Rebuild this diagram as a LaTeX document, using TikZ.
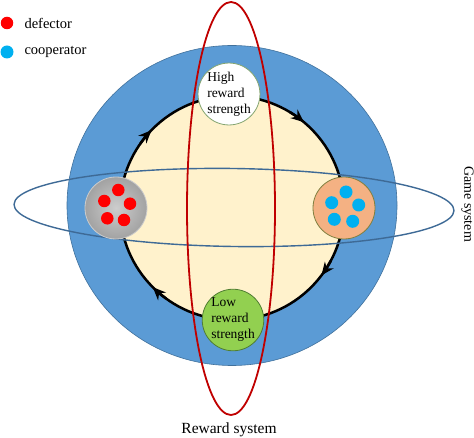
\documentclass[tikz,border=0pt]{standalone}
\usepackage{fontspec}
\setmainfont{Liberation Serif}
\usetikzlibrary{arrows.meta,calc}
\definecolor{outerblue}{HTML}{5B9BD5}
\definecolor{bluerim}{HTML}{41719C}
\definecolor{cream}{HTML}{FFF2CC}
\definecolor{gamecol}{HTML}{3E6A96}
\definecolor{rewardcol}{HTML}{C00000}
\definecolor{lowgreen}{HTML}{92D050}
\definecolor{greenrim}{HTML}{507E32}
\definecolor{coopfill}{HTML}{F4B183}
\definecolor{cooprim}{HTML}{7F7F3F}
\definecolor{defred}{HTML}{FF0000}
\definecolor{coopblue}{HTML}{00B0F0}
\tikzset{
  statenode/.style={circle, minimum size=60, inner sep=0pt, line width=0.8pt},
  rewtext/.style={align=left, font=\fontsize{13.5}{16}\selectfont},
  agent/.style={circle, minimum size=12.5, inner sep=0pt},
  flowarrow/.style={line width=2.5pt, -{Stealth[length=13pt,width=11pt]}},
  legendtext/.style={anchor=west, font=\fontsize{14.5}{17}\selectfont}
}
\begin{document}
\begin{tikzpicture}[x=1pt,y=1pt]
\useasboundingbox (0,0) rectangle (474,437);
% outer blue disc
\fill[outerblue, draw=bluerim, line width=0.6pt] (232,231.5) ellipse [x radius=165, y radius=160];
% inner cream disc with black cycle
\coordinate (rc) at (232,229);
\draw[fill=cream, line width=2.5pt] (rc) circle [radius=112];
% direction arrows (clockwise)
\foreach \a in {136,50,-37,-135}{
  \draw[flowarrow] ($(rc)+(\a+9:112)$) arc [start angle=\a+9, end angle=\a, radius=112];
}
% game system ellipse
\draw[gamecol, line width=1.4pt, rotate around={-0.8:(234,229.5)}] (234,229.5) ellipse [x radius=220, y radius=39];
% state nodes
\node[statenode, fill=white, draw=greenrim!70, rewtext] (high) at (229,343) {High\\reward\\strength};
\node[statenode, fill=lowgreen, draw=greenrim, rewtext] (low) at (233,117) {Low\\reward\\strength};
\node[statenode, minimum size=62, draw=gray!40, shading=radial,
      inner color={rgb,255:red,205;green,205;blue,205},
      outer color={rgb,255:red,162;green,162;blue,162}] (def) at (116,229) {};
\node[statenode, minimum size=62, fill=coopfill, draw=cooprim] (coop) at (344,229) {};
% defectors
\node[agent, fill=defred] (d1) at (118.3,247) {};
\node[agent, fill=defred] (d2) at (104.3,236) {};
\node[agent, fill=defred] (d3) at (130,233.3) {};
\node[agent, fill=defred] (d4) at (107.3,218.7) {};
\node[agent, fill=defred] (d5) at (124,217) {};
% cooperators
\node[agent, fill=coopblue, minimum size=13] (c1) at (346,245) {};
\node[agent, fill=coopblue, minimum size=13] (c2) at (331.7,234.3) {};
\node[agent, fill=coopblue, minimum size=13] (c3) at (358.7,232) {};
\node[agent, fill=coopblue, minimum size=13] (c4) at (334.3,217.7) {};
\node[agent, fill=coopblue, minimum size=13] (c5) at (352.7,215.7) {};
% reward system ellipse
\draw[rewardcol, line width=1.8pt] (231,228.5) ellipse [x radius=44, y radius=206.5];
% labels
\node[font=\fontsize{14}{16}\selectfont, rotate=-90] (game) at (467.5,233) {Game system};
\node[font=\fontsize{15.5}{18}\selectfont, anchor=base] (reward) at (229,4) {Reward system};
% legend
\node[agent, fill=defred] (ld) at (7,414) {};
\node[legendtext] (ldt) at (21,414) {defector};
\node[agent, fill=coopblue, minimum size=13] (lc) at (7,385) {};
\node[legendtext] (lct) at (21,385) {cooperator};
\end{tikzpicture}
\end{document}
